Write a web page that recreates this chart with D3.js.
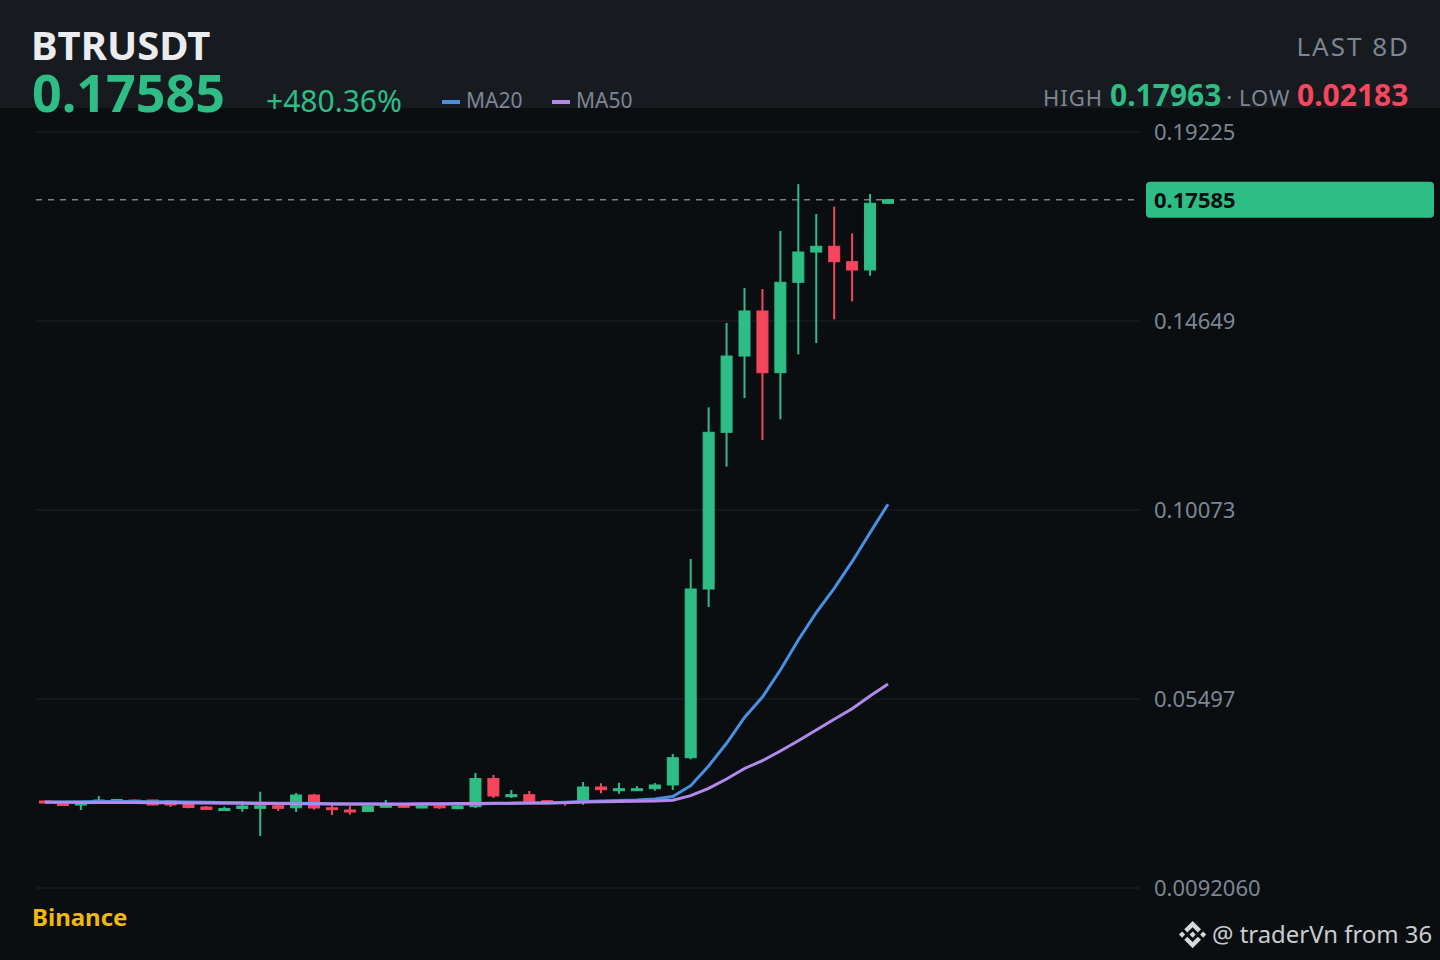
<!DOCTYPE html>
<html>
<head>
<meta charset="utf-8">
<script src="https://cdn.jsdelivr.net/npm/d3@7"></script>
<style>
	html, body { margin: 0; padding: 0; background: #0b0e11; }
	svg { display: block; font-family: "Noto Sans", sans-serif; }
</style>
</head>
<body>
<div id="vizHolder"></div>
<script>
var opens = [.03027,.03003,.02930,.02979,.03003,.03051,.03051,.03027,.02955,.02882,.02797,.02846,
	.02850,.02911,.02863,.03172,.02863,.02809,.02775,.02875,.02911,.02858,.02911,.02841,
	.02889,.03570,.03131,.03180,.03035,.03003,.02986,.03366,.03276,.03276,.03325,.03415,
	.04075,.08160,.11954,.13801,.14891,.13397,.15586,.16319,.16458,.16085,.15884,.17499];
var highs = [.03035,.03010,.02990,.03148,.03075,.03060,.03055,.03035,.02979,.02906,.02890,.03027,
	.03252,.02979,.03221,.03196,.02955,.02906,.02967,.03051,.02955,.02930,.02935,.02925,
	.03705,.03657,.03293,.03269,.03050,.03015,.03487,.03456,.03470,.03390,.03463,.04165,
	.08886,.12559,.14600,.15448,.15424,.16828,.17963,.17240,.17416,.16773,.17724,.17600];
var lows = [.02970,.02910,.02809,.02970,.02995,.02995,.02925,.02882,.02850,.02809,.02790,.02766,
	.02183,.02785,.02761,.02817,.02688,.02695,.02770,.02870,.02865,.02850,.02834,.02835,
	.02858,.03100,.03100,.03010,.02965,.02913,.02935,.03213,.03201,.03269,.03276,.03293,
	.04037,.07724,.11121,.12784,.11768,.12269,.13842,.14116,.14690,.15126,.15746,.17490];
var closes = [.02979,.02918,.02979,.03051,.03063,.03003,.02930,.02930,.02870,.02825,.02846,.02906,
	.02911,.02850,.03172,.02858,.02817,.02761,.02906,.02930,.02875,.02911,.02863,.02906,
	.03570,.03148,.03180,.03020,.02972,.02967,.03366,.03301,.03325,.03325,.03415,.04075,
	.08160,.11954,.13801,.14891,.13397,.15586,.16319,.16458,.16085,.15884,.17499,.17585];
var ma20 = [.03003,.03003,.03009,.03012,.03015,.03012,.03009,.03006,.03003,.02997,.02991,.02985,
	.02979,.02973,.02970,.02964,.02961,.02955,.02952,.02946,.02943,.02946,.02949,.02952,
	.02955,.02964,.02970,.02976,.02979,.02997,.03015,.03027,.03039,.03051,.03075,.03136,
	.03398,.03875,.04424,.05049,.05545,.06199,.06925,.07586,.08177,.08821,.09523,.10211];
var ma50 = [.02996,.02994,.02993,.02992,.02991,.02988,.02985,.02982,.02979,.02976,.02973,.02970,
	.02967,.02964,.02961,.02958,.02955,.02955,.02955,.02953,.02955,.02958,.02961,.02964,
	.02967,.02970,.02973,.02976,.02979,.02985,.03003,.03009,.03015,.03021,.03027,.03044,
	.03156,.03335,.03560,.03814,.04003,.04238,.04487,.04746,.05006,.05262,.05570,.05860];
var tickValues = [0.19225, 0.14649, 0.10073, 0.05497, 0.0092060];
var tickLabels = ['0.19225', '0.14649', '0.10073', '0.05497', '0.0092060'];
var lastPrice = 0.17585;

var width = 1440, height = 960,
	green = '#2ebd85', red = '#f6465d', tickGrey = '#7d8694';

var svg = d3.select('#vizHolder').append('svg')
	.attr('width', width)
	.attr('height', height);

svg.append('rect').attr('width', width).attr('height', height).attr('fill', '#0b0e11');
svg.append('rect').attr('width', width).attr('height', 108).attr('fill', '#171a1f');

var x = d3.scalePoint().domain(d3.range(closes.length)).range([45, 888]);
var y = d3.scaleLinear().domain([0.0092060, 0.19225]).range([888, 132]);

//Grid and price axis
svg.append('g').selectAll('line')
	.data(tickValues)
	.enter()
	.append('line')
	.attr('x1', 36).attr('x2', 1140)
	.attr('y1', function(d) { return y(d); })
	.attr('y2', function(d) { return y(d); })
	.attr('stroke', '#14181d')
	.attr('stroke-width', 2);

var axis = svg.append('g')
	.attr('transform', 'translate(1154,0)')
	.call(d3.axisRight(y)
		.tickValues(tickValues)
		.tickSize(0)
		.tickPadding(0)
		.tickFormat(function(d, i) { return tickLabels[i]; }));
axis.select('.domain').remove();
axis.selectAll('text')
	.attr('fill', tickGrey)
	.style('font-size', '22px')
	.style('font-family', '"Noto Sans", sans-serif');

//Last price line and tag
svg.append('line')
	.attr('x1', 36).attr('x2', 1136)
	.attr('y1', y(lastPrice)).attr('y2', y(lastPrice))
	.attr('stroke', '#7b7f85')
	.attr('stroke-width', 1.5)
	.attr('stroke-dasharray', '6 6');
svg.append('rect')
	.attr('x', 1146).attr('y', y(lastPrice) - 18)
	.attr('width', 288).attr('height', 36)
	.attr('rx', 4)
	.attr('fill', green);
svg.append('text')
	.attr('x', 1154).attr('y', y(lastPrice) + 8)
	.attr('fill', '#0b0e11')
	.attr('font-size', 22)
	.attr('font-weight', 700)
	.text('0.17585');

//Candles
var candles = svg.append('g').selectAll('g')
	.data(closes)
	.enter()
	.append('g')
	.attr('fill', function(d, i) { return d >= opens[i] ? green : red; })
	.attr('stroke', function(d, i) { return d >= opens[i] ? green : red; });

candles.append('line')
	.attr('x1', function(d, i) { return x(i); })
	.attr('x2', function(d, i) { return x(i); })
	.attr('y1', function(d, i) { return y(highs[i]); })
	.attr('y2', function(d, i) { return y(lows[i]); })
	.attr('stroke-width', 2);

candles.append('rect')
	.attr('x', function(d, i) { return x(i) - 5.5; })
	.attr('width', 11)
	.attr('y', function(d, i) { return y(Math.max(d, opens[i])); })
	.attr('height', function(d, i) { return Math.abs(y(d) - y(opens[i])); })
	.attr('stroke-width', 1);

//Moving averages
var maLine = d3.line()
	.x(function(d, i) { return x(i); })
	.y(function(d) { return y(d); });

svg.append('path').attr('d', maLine(ma20))
	.attr('fill', 'none').attr('stroke', '#4a90e2').attr('stroke-width', 3);
svg.append('path').attr('d', maLine(ma50))
	.attr('fill', 'none').attr('stroke', '#b388eb').attr('stroke-width', 3);

//Header
function label(px, py, size, weight, fill, str, anchor, spacing) {
	return svg.append('text')
		.attr('x', px).attr('y', py)
		.attr('font-size', size)
		.attr('font-weight', weight)
		.attr('fill', fill)
		.attr('text-anchor', anchor || 'start')
		.attr('letter-spacing', spacing || 0)
		.text(str);
}

label(31, 60, 40, 700, '#eaecef', 'BTRUSDT');
label(32, 112, 52, 700, green, '0.17585');
label(266, 112, 30, 400, green, '+480.36%');

svg.append('rect').attr('x', 442).attr('y', 100).attr('width', 18).attr('height', 4).attr('fill', '#4a90e2');
label(466, 108, 21, 400, tickGrey, 'MA20');
svg.append('rect').attr('x', 552).attr('y', 100).attr('width', 18).attr('height', 4).attr('fill', '#b388eb');
label(576, 108, 21, 400, tickGrey, 'MA50');

label(1410, 56, 26, 400, tickGrey, 'LAST 8D', 'end', 2);
label(1043, 106, 22, 400, tickGrey, 'HIGH', 'start', 1);
label(1110, 106, 30, 700, green, '0.17963');
label(1226, 106, 24, 400, tickGrey, '·');
label(1239, 106, 22, 400, tickGrey, 'LOW', 'start', 1);
label(1297, 106, 30, 700, red, '0.02183');

//Footer
label(32, 926, 24, 700, '#f0b90b', 'Binance');
label(1212, 943, 23.9, 400, '#c9ccd1', '@ traderVn from 36');

svg.append('path')
	.attr('transform', 'translate(1179,921) scale(0.215)')
	.attr('fill', '#d6d8db')
	.attr('d', 'M38.73 53.2l24.59-24.58 24.6 24.6 14.3-14.31L63.32 0 24.42 38.9zM0 63.31l14.3-14.31 14.31 14.31-14.31 14.3zM38.73 73.41l24.59 24.59 24.6-24.6 14.31 14.29-38.9 38.91-38.91-38.88-.02-.02zM98 63.31l14.3-14.31 14.31 14.3-14.31 14.32zM77.83 63.3L63.32 48.78 52.59 59.51l-1.24 1.23-2.54 2.54 14.51 14.5 14.51-14.47z');
</script>
</body>
</html>
